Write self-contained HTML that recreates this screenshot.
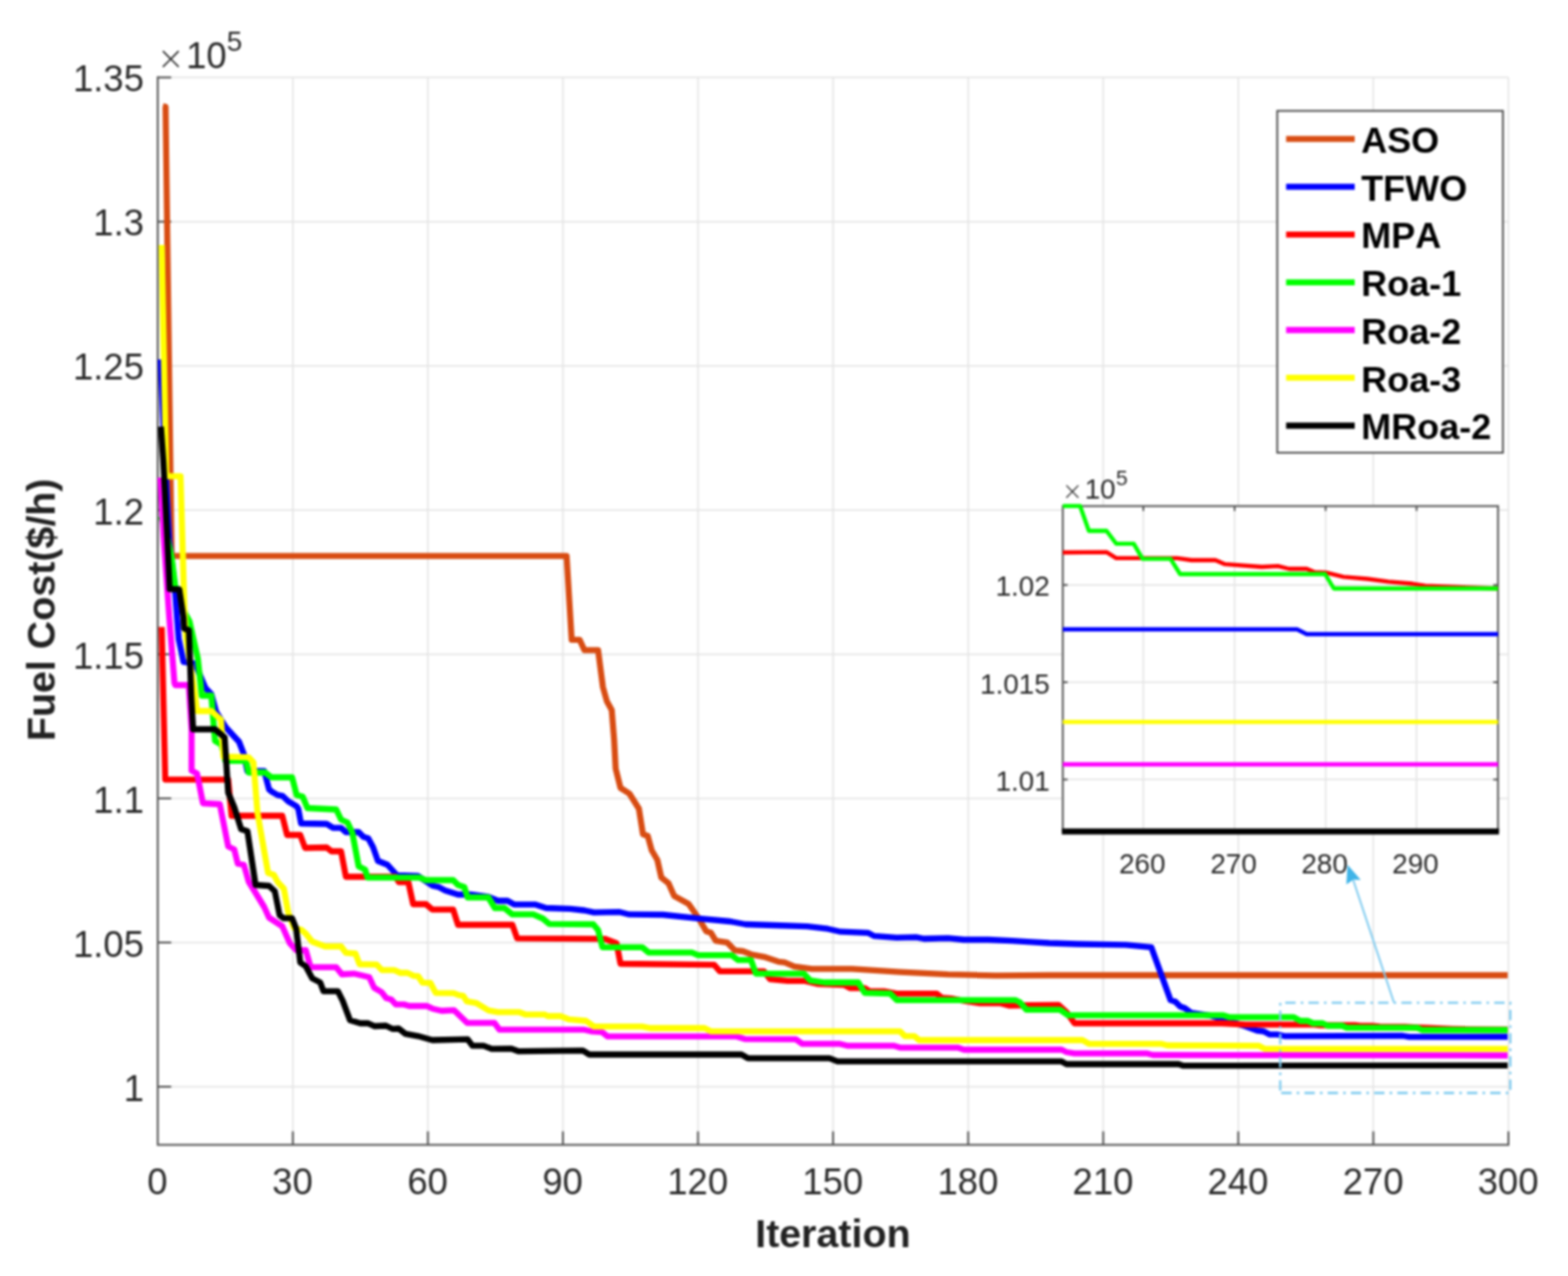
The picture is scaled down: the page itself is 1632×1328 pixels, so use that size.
<!DOCTYPE html>
<html lang="en"><head><meta charset="utf-8">
<title>Fuel Cost convergence curves</title>
<style>
html,body{margin:0;padding:0;background:#fff;}
body{width:1632px;height:1328px;overflow:hidden;}
svg{display:block;}
text{font-family:"Liberation Sans",Arial,Helvetica,sans-serif;font-kerning:none;}
.tk{font-size:38px;fill:#2b2b2b;}
.itk{font-size:29px;fill:#2b2b2b;}
.mul{font-family:"DejaVu Sans Light","DejaVu Sans","Liberation Sans",sans-serif;}
.lab{font-size:41px;font-weight:bold;fill:#222;}
.leg{font-size:37.5px;font-weight:bold;fill:#000;}
.c{fill:none;stroke-width:6.3;stroke-linejoin:round;stroke-linecap:butt;}
.ic{fill:none;stroke-width:4.3;stroke-linejoin:round;stroke-linecap:butt;}
.g{stroke:#e3e3e3;stroke-width:1.5;fill:none;}
.ax{stroke:#555555;stroke-width:2;fill:none;}
</style></head><body>
<svg width="1632" height="1328" viewBox="0 0 1632 1328">
<defs><filter id="soft" filterUnits="userSpaceOnUse" x="-10" y="-10" width="1652" height="1348" color-interpolation-filters="sRGB"><feGaussianBlur stdDeviation="0.8"/></filter></defs>
<g filter="url(#soft)">
<rect x="-10" y="-10" width="1652" height="1348" fill="#ffffff"/>
<g class="g">
<line x1="304.8" y1="80.6" x2="304.8" y2="1191.5"/>
<line x1="445.4" y1="80.6" x2="445.4" y2="1191.5"/>
<line x1="585.9" y1="80.6" x2="585.9" y2="1191.5"/>
<line x1="726.5" y1="80.6" x2="726.5" y2="1191.5"/>
<line x1="867.1" y1="80.6" x2="867.1" y2="1191.5"/>
<line x1="1007.7" y1="80.6" x2="1007.7" y2="1191.5"/>
<line x1="1148.3" y1="80.6" x2="1148.3" y2="1191.5"/>
<line x1="1288.8" y1="80.6" x2="1288.8" y2="1191.5"/>
<line x1="1429.4" y1="80.6" x2="1429.4" y2="1191.5"/>
<line x1="1570.0" y1="80.6" x2="1570.0" y2="1191.5"/>
<line x1="164.2" y1="1131.0" x2="1570.0" y2="1131.0"/>
<line x1="164.2" y1="980.9" x2="1570.0" y2="980.9"/>
<line x1="164.2" y1="830.9" x2="1570.0" y2="830.9"/>
<line x1="164.2" y1="680.9" x2="1570.0" y2="680.9"/>
<line x1="164.2" y1="530.8" x2="1570.0" y2="530.8"/>
<line x1="164.2" y1="380.8" x2="1570.0" y2="380.8"/>
<line x1="164.2" y1="230.7" x2="1570.0" y2="230.7"/>
<line x1="164.2" y1="80.6" x2="1570.0" y2="80.6"/>
</g>
<g class="ax">
<path d="M164.2,79.6 V1191.5 H1571.0"/>
<line x1="304.8" y1="1191.5" x2="304.8" y2="1177.5"/>
<line x1="445.4" y1="1191.5" x2="445.4" y2="1177.5"/>
<line x1="585.9" y1="1191.5" x2="585.9" y2="1177.5"/>
<line x1="726.5" y1="1191.5" x2="726.5" y2="1177.5"/>
<line x1="867.1" y1="1191.5" x2="867.1" y2="1177.5"/>
<line x1="1007.7" y1="1191.5" x2="1007.7" y2="1177.5"/>
<line x1="1148.3" y1="1191.5" x2="1148.3" y2="1177.5"/>
<line x1="1288.8" y1="1191.5" x2="1288.8" y2="1177.5"/>
<line x1="1429.4" y1="1191.5" x2="1429.4" y2="1177.5"/>
<line x1="1570.0" y1="1191.5" x2="1570.0" y2="1177.5"/>
<line x1="164.2" y1="1131.0" x2="178.2" y2="1131.0"/>
<line x1="164.2" y1="980.9" x2="178.2" y2="980.9"/>
<line x1="164.2" y1="830.9" x2="178.2" y2="830.9"/>
<line x1="164.2" y1="680.9" x2="178.2" y2="680.9"/>
<line x1="164.2" y1="530.8" x2="178.2" y2="530.8"/>
<line x1="164.2" y1="380.8" x2="178.2" y2="380.8"/>
<line x1="164.2" y1="230.7" x2="178.2" y2="230.7"/>
<line x1="164.2" y1="80.6" x2="178.2" y2="80.6"/>
</g>
<polyline class="c" stroke="#D84C12" points="169.5,110.5 172.3,111.0 178.6,578.7 589.7,578.7 595.0,665.8 603.3,665.8 608.3,676.7 622.5,676.7 627.5,715.0 631.7,730.0 636.7,739.0 639.2,770.0 640.8,800.0 645.8,820.0 655.0,825.8 665.0,841.7 669.2,868.3 674.2,870.0 678.3,885.0 684.2,895.0 688.3,913.3 695.8,919.2 701.7,932.5 716.7,940.8 726.7,955.0 735.0,969.2 740.0,970.8 745.0,979.2 756.7,980.8 765.0,989.2 773.3,990.0 781.7,993.3 795.0,995.8 810.0,1000.8 816.7,1001.7 826.7,1005.8 845.0,1008.3 886.7,1008.3 936.7,1011.7 986.7,1014.2 1036.7,1015.3 1092.0,1015.0 1569.2,1015.0"/>
<polyline class="c" stroke="#0000FF" points="167.3,374.0 171.3,470.0 176.2,563.0 182.0,612.0 184.1,640.0 186.0,665.0 191.0,688.8 203.0,690.5 213.8,716.0 220.0,722.5 225.0,741.0 235.0,757.0 248.8,772.0 253.8,785.0 257.5,802.5 275.0,802.5 280.0,821.5 283.0,824.0 288.8,827.4 294.0,828.3 300.0,834.0 308.7,839.1 310.5,842.0 313.3,857.0 340.0,857.5 346.5,861.5 355.0,861.7 360.0,866.0 373.3,866.0 378.3,871.0 383.3,872.5 388.3,881.7 393.3,896.0 403.3,900.0 413.3,911.0 435.0,911.7 450.0,921.7 456.7,923.3 463.3,926.7 476.7,931.0 490.0,931.0 508.3,933.3 518.3,937.5 528.3,937.5 535.0,941.3 556.7,941.3 568.3,945.0 593.3,945.8 608.3,947.5 618.3,949.7 645.0,949.2 655.0,951.7 690.0,952.0 726.7,955.8 760.0,959.0 776.0,962.0 806.0,963.0 840.0,964.2 861.7,966.7 875.0,969.7 903.3,970.8 910.0,974.2 933.3,975.8 953.3,975.3 961.7,977.0 986.7,976.3 1003.3,978.0 1028.3,978.0 1053.3,979.2 1073.3,980.3 1092.0,981.5 1121.7,982.5 1171.7,983.3 1198.3,985.8 1218.3,1040.8 1223.3,1042.5 1228.3,1047.5 1233.3,1049.2 1240.0,1054.2 1260.0,1057.0 1280.0,1063.0 1296.7,1068.3 1308.3,1072.5 1315.0,1073.3 1321.7,1076.7 1330.0,1076.7 1336.7,1078.3 1460.0,1078.0 1466.7,1079.2 1569.2,1079.0"/>
<polyline class="c" stroke="#FF0000" points="168.3,652.5 172.0,811.3 237.5,811.3 241.0,849.0 293.8,849.0 298.8,869.0 312.5,869.0 317.5,882.5 340.0,882.0 345.0,886.0 355.0,886.0 360.0,912.5 411.7,912.5 415.0,918.0 425.0,918.0 430.0,941.0 443.3,941.0 450.0,946.7 471.7,946.7 476.7,962.5 533.3,962.5 538.3,976.7 630.0,977.2 641.7,981.7 645.8,1003.0 743.3,1004.2 749.2,1010.8 795.0,1010.8 801.7,1019.2 820.0,1020.8 836.7,1020.8 851.7,1024.2 878.3,1025.0 885.0,1028.3 900.0,1028.3 905.0,1031.7 920.0,1031.7 933.3,1034.2 975.0,1034.2 980.0,1038.3 990.0,1039.2 1005.0,1042.0 1020.0,1044.2 1041.7,1044.2 1050.0,1046.5 1101.7,1045.8 1110.0,1053.3 1118.3,1065.0 1271.7,1065.0 1296.7,1066.3 1368.0,1066.3 1374.0,1067.0 1410.0,1067.0 1416.0,1067.6 1428.0,1067.6 1436.0,1068.3 1462.0,1068.7 1476.0,1069.5 1490.0,1070.0 1512.0,1070.8 1530.0,1071.3 1569.2,1071.6"/>
<polyline class="c" stroke="#00FF00" points="167.5,537.5 171.5,548.0 174.0,560.0 178.6,580.0 182.5,611.0 189.0,616.0 192.5,638.0 197.2,646.5 206.0,686.0 210.0,724.0 220.0,724.0 223.8,771.0 230.5,775.0 234.5,791.8 256.0,791.8 258.8,804.0 276.0,804.0 282.5,809.0 304.0,809.0 308.8,827.5 315.0,829.0 320.0,841.0 350.0,842.5 355.0,853.0 361.7,856.0 366.7,866.7 373.3,901.7 380.0,905.0 382.5,913.3 436.7,913.3 443.3,916.0 471.7,916.0 476.7,921.0 483.3,923.3 486.7,934.0 508.3,934.0 515.0,945.0 525.0,945.0 533.3,951.7 555.0,951.7 565.0,956.0 571.7,961.7 617.5,962.0 622.5,968.0 627.0,985.8 668.3,985.8 675.0,991.3 720.0,991.3 726.7,994.2 761.7,994.2 768.3,999.2 781.7,999.2 786.7,1013.3 836.7,1013.3 843.3,1020.3 858.3,1022.5 893.3,1022.5 900.0,1033.3 926.7,1034.2 933.3,1040.8 1056.7,1040.8 1061.7,1043.3 1068.3,1050.8 1103.3,1050.8 1111.7,1056.7 1273.3,1056.7 1280.0,1058.7 1346.7,1058.7 1353.3,1062.5 1361.0,1062.5 1366.7,1065.0 1376.7,1065.0 1381.7,1067.5 1396.7,1067.5 1401.7,1069.7 1475.0,1069.7 1480.0,1072.0 1569.2,1072.0"/>
<polyline class="c" stroke="#FF00FF" points="167.0,497.0 170.4,560.0 176.0,640.0 181.6,711.0 182.5,713.0 196.5,713.0 199.4,760.0 199.4,802.0 205.0,805.0 206.5,812.0 211.2,836.0 228.8,837.0 237.5,881.0 243.8,884.0 247.5,899.0 253.8,900.0 258.8,917.5 275.0,944.0 280.0,955.0 293.8,964.0 301.7,981.7 308.3,989.0 318.3,989.0 323.3,1006.7 350.0,1006.7 355.8,1014.0 368.3,1013.3 384.3,1017.0 389.4,1028.0 397.2,1032.6 402.0,1038.8 407.3,1040.3 412.0,1045.4 420.4,1045.4 426.0,1047.0 444.0,1046.9 450.0,1049.7 459.5,1052.0 472.5,1051.3 486.2,1064.6 514.6,1064.7 519.8,1071.7 608.3,1071.7 615.0,1073.3 626.7,1074.2 632.5,1078.7 766.7,1078.7 775.0,1081.3 828.3,1081.7 835.0,1086.3 873.3,1086.3 881.7,1088.3 930.0,1088.3 936.7,1090.3 996.7,1090.3 1003.3,1092.5 1105.0,1092.5 1110.0,1095.0 1118.3,1096.3 1193.3,1096.3 1200.0,1098.0 1569.2,1098.5"/>
<polyline class="c" stroke="#FFFF00" points="168.3,255.0 173.0,493.0 175.0,495.6 187.9,495.6 189.8,560.0 192.2,643.0 194.0,665.0 203.0,723.0 205.0,740.0 220.0,740.0 230.0,749.0 232.5,787.5 258.8,788.2 263.8,793.5 268.0,846.0 279.0,908.5 285.0,910.5 289.0,918.0 295.5,925.0 300.0,950.0 306.0,966.0 313.3,967.5 318.3,971.7 325.0,980.0 338.3,985.0 355.0,985.0 360.0,991.7 370.0,992.5 374.2,1003.5 392.0,1003.8 397.5,1009.6 410.3,1009.6 416.8,1012.5 424.1,1012.5 430.6,1015.7 435.1,1015.9 439.7,1022.6 448.0,1023.0 453.5,1033.4 472.2,1033.6 477.4,1035.7 482.0,1036.3 485.9,1042.2 495.5,1043.8 508.5,1051.6 518.3,1053.3 540.0,1053.3 546.7,1055.8 566.7,1055.8 570.0,1057.5 583.3,1057.5 591.7,1060.8 610.0,1062.5 618.3,1068.3 668.3,1068.3 676.7,1070.0 733.3,1070.0 740.0,1073.3 936.7,1073.3 941.7,1078.3 951.7,1078.3 956.7,1082.5 1126.7,1082.5 1133.3,1086.3 1208.3,1086.3 1215.0,1088.0 1310.0,1088.3 1316.7,1091.7 1569.2,1091.7"/>
<polyline class="c" stroke="#000000" points="167.5,444.0 170.0,480.0 174.1,560.0 176.6,613.0 186.6,613.5 191.0,643.0 191.6,654.0 196.6,656.0 199.0,723.0 201.0,759.0 223.8,759.0 233.8,767.5 237.5,825.0 243.8,840.0 251.0,863.0 257.5,865.0 266.0,921.0 280.0,922.0 286.0,927.5 291.0,952.5 295.0,955.6 304.0,955.6 308.3,966.7 312.5,1001.7 318.3,1005.8 325.0,1018.3 333.3,1022.5 336.7,1031.7 351.7,1031.7 356.7,1041.7 364.2,1061.7 375.0,1065.0 383.3,1065.0 390.0,1068.0 401.7,1067.5 408.3,1070.8 415.0,1070.5 421.7,1075.8 435.0,1078.3 450.0,1082.5 486.7,1081.7 491.7,1088.3 503.3,1088.3 511.7,1091.7 531.7,1091.3 540.0,1094.2 606.7,1093.3 613.3,1097.5 771.7,1097.5 778.3,1101.3 863.3,1101.3 871.7,1104.7 1105.0,1104.7 1110.0,1107.5 1226.7,1107.5 1231.7,1109.2 1569.2,1108.8"/>
<g class="tk" text-anchor="middle">
<text x="163.9" y="1243.4">0</text>
<text x="304.5" y="1243.4">30</text>
<text x="445.1" y="1243.4">60</text>
<text x="585.6" y="1243.4">90</text>
<text x="726.2" y="1243.4">120</text>
<text x="866.8" y="1243.4">150</text>
<text x="1007.4" y="1243.4">180</text>
<text x="1148.0" y="1243.4">210</text>
<text x="1288.5" y="1243.4">240</text>
<text x="1429.1" y="1243.4">270</text>
<text x="1569.7" y="1243.4">300</text>
</g>
<g class="tk" text-anchor="end">
<text x="149.9" y="1145.7">1</text>
<text x="149.9" y="995.6">1.05</text>
<text x="149.9" y="845.6">1.1</text>
<text x="149.9" y="695.6">1.15</text>
<text x="149.9" y="545.5">1.2</text>
<text x="149.9" y="395.4">1.25</text>
<text x="149.9" y="245.4">1.3</text>
<text x="149.9" y="95.3">1.35</text>
</g>
<text class="tk mul" x="163.5" y="71.9" style="font-size:34px">×</text>
<text class="tk" x="193.7" y="70.6">10</text>
<text class="tk" x="236.0" y="53.0" style="font-size:29px">5</text>
<text class="lab" text-anchor="middle" x="866.9" y="1298.1">Iteration</text>
<text class="lab" text-anchor="middle" transform="translate(57.4,634.7) rotate(-90)">Fuel Cost($/h)</text>
<rect x="1329.4" y="115.4" width="234.9" height="355.8" fill="#fff" stroke="#444444" stroke-width="1.8"/>
<line x1="1338.6" y1="144.6" x2="1410" y2="144.6" stroke="#D84C12" stroke-width="6.3"/>
<text class="leg" x="1416.7" y="158.9">ASO</text>
<line x1="1338.6" y1="194.3" x2="1410" y2="194.3" stroke="#0000FF" stroke-width="6.3"/>
<text class="leg" x="1416.7" y="208.6">TFWO</text>
<line x1="1338.6" y1="244.1" x2="1410" y2="244.1" stroke="#FF0000" stroke-width="6.3"/>
<text class="leg" x="1416.7" y="258.4">MPA</text>
<line x1="1338.6" y1="293.8" x2="1410" y2="293.8" stroke="#00FF00" stroke-width="6.3"/>
<text class="leg" x="1416.7" y="308.1">Roa-1</text>
<line x1="1338.6" y1="343.5" x2="1410" y2="343.5" stroke="#FF00FF" stroke-width="6.3"/>
<text class="leg" x="1416.7" y="357.8">Roa-2</text>
<line x1="1338.6" y1="393.2" x2="1410" y2="393.2" stroke="#FFFF00" stroke-width="6.3"/>
<text class="leg" x="1416.7" y="407.6">Roa-3</text>
<line x1="1338.6" y1="443.0" x2="1410" y2="443.0" stroke="#000000" stroke-width="6.3"/>
<text class="leg" x="1416.7" y="457.3">MRoa-2</text>
<rect x="1106.2" y="526.7" width="453.0" height="338.3" fill="#fff"/>
<g class="g">
<line x1="1190.0" y1="526.7" x2="1190.0" y2="865.0"/>
<line x1="1285.0" y1="526.7" x2="1285.0" y2="865.0"/>
<line x1="1379.7" y1="526.7" x2="1379.7" y2="865.0"/>
<line x1="1474.4" y1="526.7" x2="1474.4" y2="865.0"/>
<line x1="1106.2" y1="608.8" x2="1559.2" y2="608.8"/>
<line x1="1106.2" y1="710.0" x2="1559.2" y2="710.0"/>
<line x1="1106.2" y1="811.3" x2="1559.2" y2="811.3"/>
</g>
<g stroke="#5a5a5a" stroke-width="2" fill="none">
<rect x="1106.2" y="526.7" width="453.0" height="338.3"/>
<line x1="1190.0" y1="526.7" x2="1190.0" y2="531.7"/>
<line x1="1285.0" y1="526.7" x2="1285.0" y2="531.7"/>
<line x1="1379.7" y1="526.7" x2="1379.7" y2="531.7"/>
<line x1="1474.4" y1="526.7" x2="1474.4" y2="531.7"/>
<line x1="1106.2" y1="608.8" x2="1111.2" y2="608.8"/>
<line x1="1559.2" y1="608.8" x2="1554.2" y2="608.8"/>
<line x1="1106.2" y1="710.0" x2="1111.2" y2="710.0"/>
<line x1="1559.2" y1="710.0" x2="1554.2" y2="710.0"/>
<line x1="1106.2" y1="811.3" x2="1111.2" y2="811.3"/>
<line x1="1559.2" y1="811.3" x2="1554.2" y2="811.3"/>
</g>
<polyline class="ic" stroke="#0000FF" points="1106.2,655.0 1350.0,655.0 1360.0,660.0 1559.2,660.0"/>
<polyline class="ic" stroke="#FF0000" points="1106.2,575.0 1151.7,574.7 1161.7,580.8 1225.0,580.8 1240.0,583.0 1265.0,583.0 1275.0,587.2 1313.3,590.0 1330.0,589.2 1341.7,592.0 1360.0,592.0 1368.3,595.5 1380.0,595.8 1398.3,600.3 1423.3,602.5 1445.0,605.3 1470.0,607.5 1483.3,609.7 1559.2,612.5"/>
<polyline class="ic" stroke="#00FF00" points="1106.2,526.7 1124.2,526.7 1133.3,552.5 1151.7,552.5 1161.7,565.8 1180.0,565.8 1189.2,581.7 1218.3,581.7 1228.3,597.5 1379.2,597.5 1388.3,612.5 1559.2,612.5"/>
<polyline class="ic" stroke="#FF00FF" points="1106.2,795.5 1559.2,795.5"/>
<polyline class="ic" stroke="#FFFF00" points="1106.2,751.3 1559.2,751.3"/>
<polyline class="ic" stroke="#000000" style="stroke-width:6.2" points="1105.2,865.3 1560.2,865.3"/>
<g class="itk" text-anchor="middle">
<text x="1188.9" y="909.3">260</text>
<text x="1283.9" y="909.3">270</text>
<text x="1378.6" y="909.3">280</text>
<text x="1473.3" y="909.3">290</text>
</g>
<g class="itk" text-anchor="end">
<text x="1092.6" y="620.3">1.02</text>
<text x="1092.6" y="721.5">1.015</text>
<text x="1092.6" y="822.8">1.01</text>
</g>
<text class="itk mul" x="1105.2" y="519.8" style="font-size:26px">×</text>
<text class="itk" x="1128.9" y="519.1">10</text>
<text class="itk" x="1161.6" y="504.9" style="font-size:22px">5</text>
<path d="M1332.5,1137.5 H1572 V1043.6 H1332.5 Z" fill="none" stroke="#7fcbf0" stroke-width="2.3" stroke-dasharray="10.8 5.4 2.6 5.37" stroke-dashoffset="-1"/>
<line x1="1450.8" y1="1043.3" x2="1408.5" y2="916" stroke="#7fcbf0" stroke-width="2"/>
<polygon points="1402.5,900 1416.3,915.8 1408.6,915.6 1401.3,920.4" fill="#3fb4e8"/>
</g>
</svg>
</body></html>
